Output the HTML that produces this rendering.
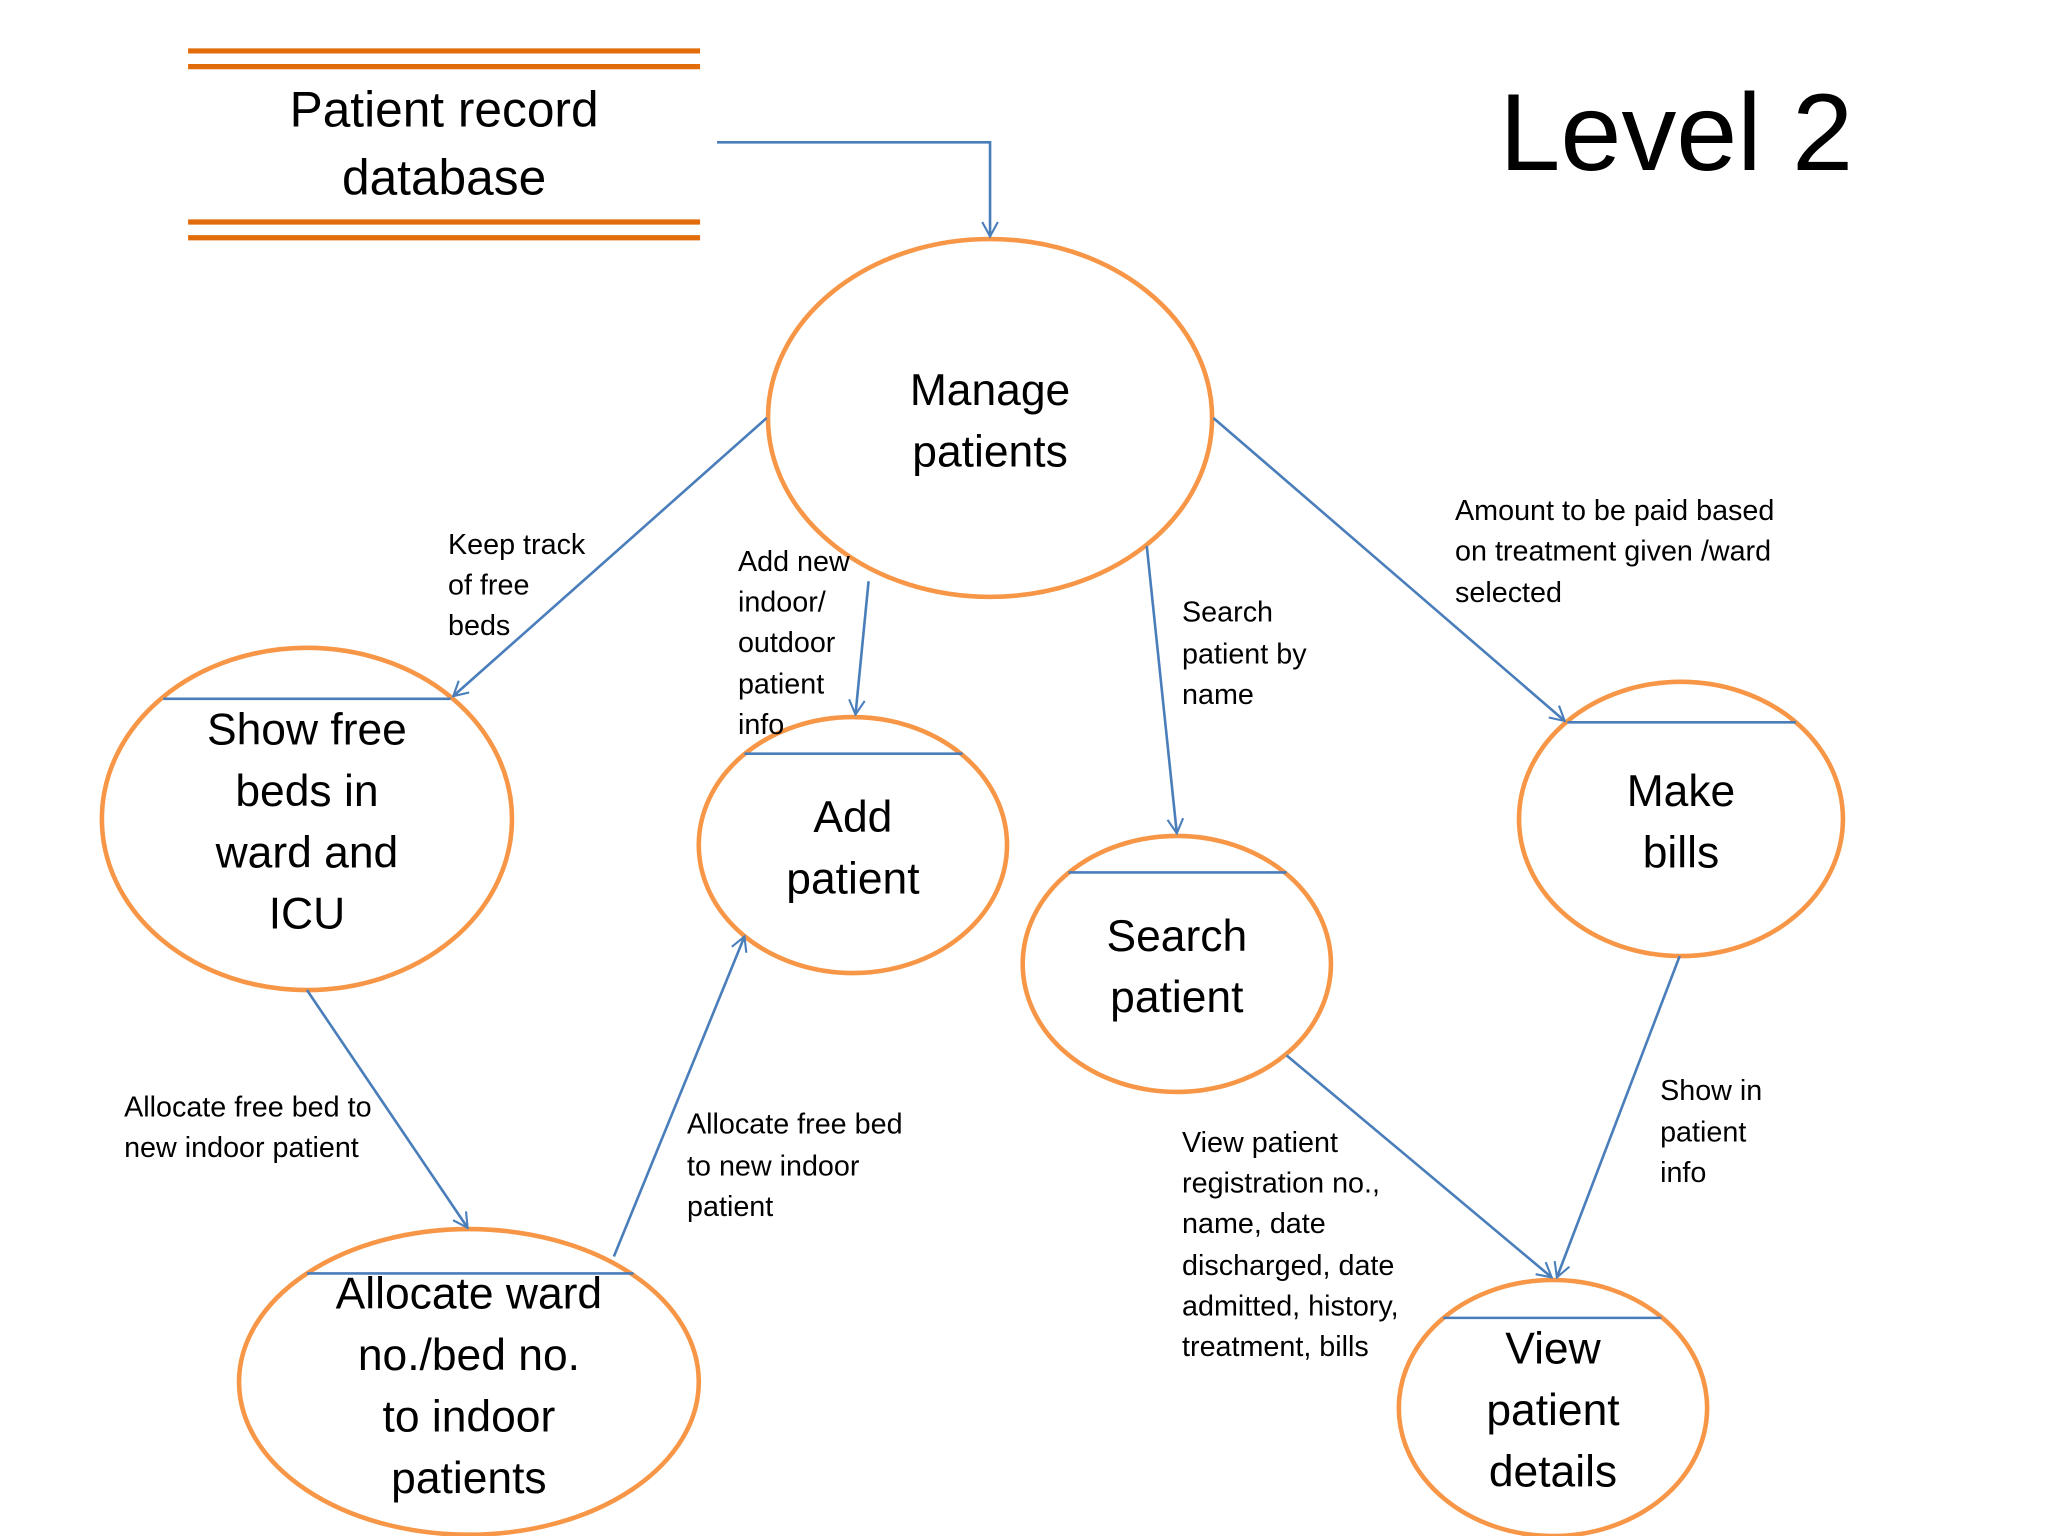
<!DOCTYPE html>
<html><head><meta charset="utf-8"><style>
html,body{margin:0;padding:0;background:#fff;}
svg{display:block;}
text{font-family:"Liberation Sans",sans-serif;fill:#000;}
</style></head><body>
<svg width="2048" height="1536" viewBox="0 0 1568 1176" xmlns="http://www.w3.org/2000/svg">
<defs>
<marker id="a" markerWidth="14" markerHeight="14" refX="12" refY="7" orient="auto" markerUnits="userSpaceOnUse">
<path d="M1,1 L12,7 L1,13" fill="none" stroke="#4a7ebb" stroke-width="1.6"/>
</marker>
</defs>
<g stroke="#e36c0a" stroke-width="4">
<line x1="144" y1="39" x2="536" y2="39"/><line x1="144" y1="51" x2="536" y2="51"/>
<line x1="144" y1="170" x2="536" y2="170"/><line x1="144" y1="182" x2="536" y2="182"/>
</g>
<text x="340" y="97" font-size="38" text-anchor="middle">Patient record</text>
<text x="340" y="149" font-size="38" text-anchor="middle">database</text>
<text x="1148" y="130" font-size="84">Level 2</text>

<g fill="none" stroke="#f79646" stroke-width="3.5">
<ellipse cx="758" cy="320" rx="170" ry="137"/>
<ellipse cx="235" cy="627" rx="157" ry="131"/>
<ellipse cx="653" cy="647" rx="118" ry="98"/>
<ellipse cx="901" cy="738" rx="118" ry="98"/>
<ellipse cx="1287" cy="627" rx="124" ry="105"/>
<ellipse cx="359" cy="1058" rx="176" ry="117"/>
<ellipse cx="1189" cy="1078" rx="118" ry="98"/>
</g>
<g stroke="#4a7ebb" stroke-width="2" fill="none">
<line x1="125" y1="535" x2="345" y2="535"/>
<line x1="570" y1="577" x2="737" y2="577"/>
<line x1="818" y1="668" x2="985" y2="668"/>
<line x1="1200" y1="553" x2="1375" y2="553"/>
<line x1="235" y1="975" x2="485" y2="975"/>
<line x1="1105" y1="1009" x2="1272" y2="1009"/>
<polyline points="549,109 758,109 758,181" marker-end="url(#a)"/>
<line x1="587" y1="320" x2="347" y2="533" marker-end="url(#a)"/>
<line x1="665" y1="445" x2="655" y2="547" marker-end="url(#a)"/>
<line x1="878" y1="418" x2="901" y2="638" marker-end="url(#a)"/>
<line x1="929" y1="320" x2="1198" y2="552" marker-end="url(#a)"/>
<line x1="235" y1="758" x2="358" y2="940" marker-end="url(#a)"/>
<line x1="470" y1="962" x2="570" y2="717" marker-end="url(#a)"/>
<line x1="985" y1="808" x2="1188" y2="978" marker-end="url(#a)"/>
<line x1="1286" y1="732" x2="1192" y2="978" marker-end="url(#a)"/>
</g>

<g font-size="34" text-anchor="middle">
<text x="758" y="310">Manage</text><text x="758" y="357">patients</text>
<text x="235" y="570">Show free</text><text x="235" y="617">beds in</text><text x="235" y="664">ward and</text><text x="235" y="711">ICU</text>
<text x="653" y="637">Add</text><text x="653" y="684">patient</text>
<text x="901" y="728">Search</text><text x="901" y="775">patient</text>
<text x="1287" y="617">Make</text><text x="1287" y="664">bills</text>
<text x="359" y="1002">Allocate ward</text><text x="359" y="1049">no./bed no.</text><text x="359" y="1096">to indoor</text><text x="359" y="1143">patients</text>
<text x="1189" y="1044">View</text><text x="1189" y="1091">patient</text><text x="1189" y="1138">details</text>
</g>

<g font-size="22">
<text x="343" y="424">Keep track</text><text x="343" y="455">of free</text><text x="343" y="486">beds</text>
<text x="565" y="437">Add new</text><text x="565" y="468">indoor/</text><text x="565" y="499">outdoor</text><text x="565" y="531">patient</text><text x="565" y="562">info</text>
<text x="905" y="476">Search</text><text x="905" y="508">patient by</text><text x="905" y="539">name</text>
<text x="1114" y="398">Amount to be paid based</text><text x="1114" y="429">on treatment given /ward</text><text x="1114" y="461">selected</text>
<text x="95" y="855">Allocate free bed to</text><text x="95" y="886">new indoor patient</text>
<text x="526" y="868">Allocate free bed</text><text x="526" y="900">to new indoor</text><text x="526" y="931">patient</text>
<text x="905" y="882">View patient</text><text x="905" y="913">registration no.,</text><text x="905" y="944">name, date</text><text x="905" y="976">discharged, date</text><text x="905" y="1007">admitted, history,</text><text x="905" y="1038">treatment, bills</text>
<text x="1271" y="842">Show in</text><text x="1271" y="874">patient</text><text x="1271" y="905">info</text>
</g>
</svg>
</body></html>
